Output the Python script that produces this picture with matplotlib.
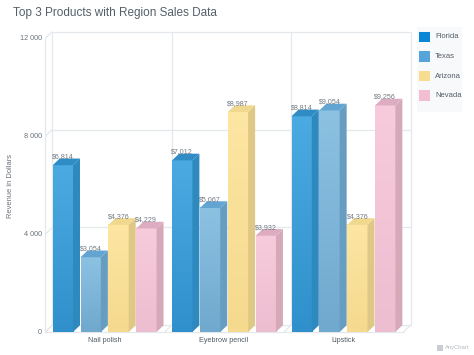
import matplotlib
matplotlib.use('Agg')
import matplotlib.pyplot as plt
from matplotlib.colors import LinearSegmentedColormap
from matplotlib.patches import Polygon, Rectangle
import numpy as np

plt.rcParams['font.family'] = ['Liberation Sans', 'DejaVu Sans']

products = ['Nail polish', 'Eyebrow pencil', 'Lipstick']
regions = ['Florida', 'Texas', 'Arizona', 'Nevada']
florida = [6814, 7012, 8814]
texas = [3054, 5067, 9054]
arizona = [4376, 8987, 4376]
nevada = [4229, 3932, 9256]
series = [florida, texas, arizona, nevada]
y_ticks = [0, 4000, 8000, 12000]
y_tick_labels = ['0', '4 000', '8 000', '12 000']

# top, bottom, side, cap, legend
colors = [
    ('#4caae2', '#2f90cb', '#2e89bf', '#2f8cc4', '#0b86d6'),
    ('#8cc1e2', '#70a9ce', '#669dc1', '#62a5d2', '#55a5da'),
    ('#fde6a2', '#f5d98e', '#dfc886', '#f0d88e', '#f8dc90'),
    ('#f7cbdc', '#edbdd0', '#d6a9b9', '#ddacc0', '#f4bed2'),
]
grid_col = '#e4e8ed'
text_col = '#687179'

W, H = 474, 355
fig = plt.figure(figsize=(W / 100, H / 100), dpi=100)

# front plane of the 3d box in pixels
left, right, top, bottom = 45.3, 403.5, 38.3, 332.0
ax = fig.add_axes([left / W, 1 - bottom / H, (right - left) / W, (bottom - top) / H])
ax.set_xlim(0, 3)
ax.set_ylim(0, 12000)
ax.axis('off')

px_x = 3 / (right - left)
px_y = 12000 / (bottom - top)
dx = 7.0 * px_x
dy = 6.7 * px_y
bar_w = 20.3 * px_x
pitch = 27.85 * px_x
start = 7.4 * px_x


def line(xs, ys, z=1):
    ax.plot(xs, ys, color=grid_col, lw=0.9, clip_on=False, zorder=z, solid_capstyle='butt')


# walls
for v in y_ticks:
    line([dx, 3 + dx], [v + dy, v + dy])
    line([0, dx], [v, v + dy])
for c in range(4):
    line([c + dx, c + dx], [dy, 12000 + dy])
    line([c, c + dx], [0, dy])
line([0, 0], [0, 12000], 1)
line([0, 3], [0, 0], 1)

# bars
for j, vals in enumerate(series):
    c_top, c_bot, c_side, c_cap, c_leg = colors[j]
    cmap = LinearSegmentedColormap.from_list('g', [c_bot, c_top])
    grad = np.linspace(1, 0, 64).reshape(-1, 1)
    for i, v in enumerate(vals):
        x0 = i + start + j * pitch
        x1 = x0 + bar_w
        ax.imshow(grad, extent=(x0, x1, 0, v), aspect='auto', cmap=cmap, vmin=0, vmax=1,
                  interpolation='bilinear', zorder=3, clip_on=False)
        ax.add_patch(Polygon([(x1, 0), (x1 + dx, dy), (x1 + dx, v + dy), (x1, v)],
                             fc=c_side, ec='none', zorder=3, clip_on=False))
        ax.add_patch(Polygon([(x0, v), (x1, v), (x1 + dx, v + dy), (x0 + dx, v + dy)],
                             fc=c_cap, ec='none', zorder=3, clip_on=False))
        ax.annotate('$' + format(v, ','), ((x0 + x1) / 2, v), xytext=(0, 6.1),
                    textcoords='offset points', ha='center', va='center',
                    fontsize=5.1, color='#636c74', alpha=0.9, zorder=5)

ax.set_xlim(0, 3)
ax.set_ylim(0, 12000)

# y ticks and category labels
for v, s in zip(y_ticks, y_tick_labels):
    ax.annotate(s, (0, v), xytext=(-2.2, 0), textcoords='offset points', ha='right',
                va='center', fontsize=5.2, color=text_col)
for i, p in enumerate(products):
    ax.annotate(p, (i + 0.5, 0), xytext=(-0.3, -6.0), textcoords='offset points', ha='center',
                va='center', fontsize=5.2, color='#525c65')

# everything outside the plot, in pixels
ov = fig.add_axes([0, 0, 1, 1], facecolor='none')
ov.set_xlim(0, W)
ov.set_ylim(H, 0)
ov.axis('off')

ov.text(13, 13, 'Top 3 Products with Region Sales Data', fontsize=8.5, color='#545f69',
        ha='left', va='center')
ov.text(11, 185.5, 'Revenue in Dollars', fontsize=5.4, color=text_col, rotation=90,
        ha='center', va='center')

ov.add_patch(Rectangle((417, 27), 45.5, 85, fc='#f8f9fb', ec='none'))
for j, name in enumerate(regions):
    yy = 37 + j * 19.5
    ov.add_patch(Rectangle((419.5, yy - 5.2), 10.5, 10.4, fc=colors[j][4], ec='none'))
    ov.text(435, yy, name, fontsize=5.5, color='#525c65', ha='left', va='center')

# watermark
ov.add_patch(Rectangle((437, 345), 6, 6, fc='#c9cdd1', ec='none'))
ov.text(444.5, 348, 'AnyChart', fontsize=4.2, color='#b3b8bd', ha='left', va='center')

fig.savefig('out.png', dpi=100)
